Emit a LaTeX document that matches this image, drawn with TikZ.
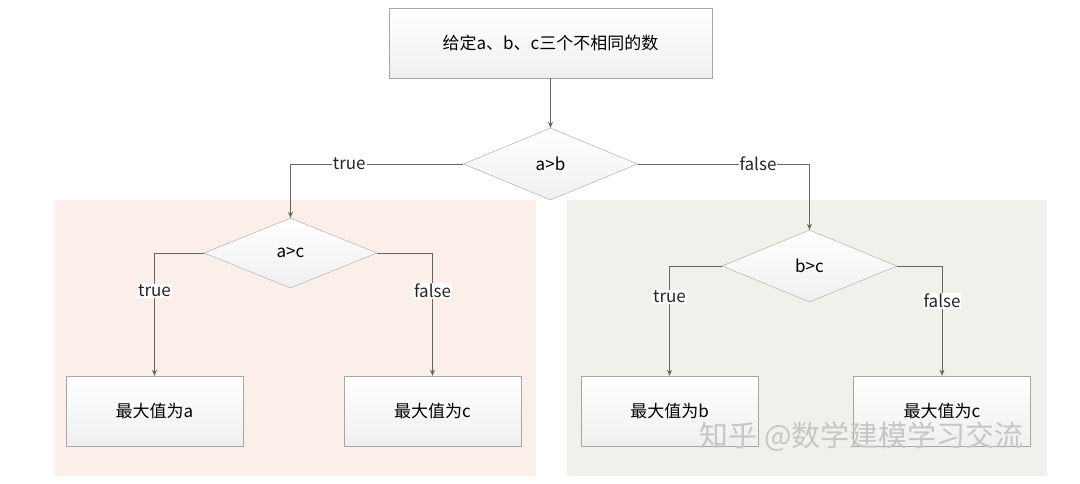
\documentclass[tikz,border=0pt]{standalone}
\usepackage{fontspec}
\setmainfont{Noto Sans CJK SC}
\usetikzlibrary{shapes.geometric,arrows.meta}
\begin{document}
\begin{tikzpicture}[x=1pt,y=-1pt,
  box/.style={draw=gray!70,top color=white,bottom color=gray!12,minimum width=177pt,minimum height=70pt,font=\fontsize{17}{20}\selectfont,inner sep=0},
  dia/.style={diamond,aspect=2.4,draw=gray!70,top color=white,bottom color=gray!12,minimum width=174pt,minimum height=72pt,inner sep=0,font=\fontsize{17}{20}\selectfont},
  conn/.style={draw=gray!80!black,line width=0.6pt,-{Stealth[length=6pt,width=5pt]}},
  lab/.style={fill=white,inner sep=1pt,font=\fontsize{17}{20}\selectfont,text=black!85}]
\useasboundingbox (0,0) rectangle (1080,483);
\fill[white] (0,0) rectangle (1080,483);
\fill[fill={rgb,255:red,252;green,238;blue,232}] (55,200) rectangle (536,476);
\fill[fill={rgb,255:red,239;green,242;blue,234}] (567,200) rectangle (1047,476);
\node[box,minimum width=323pt] (start) at (550.5,43) {给定a、b、c三个不相同的数};
\node[dia] (d1) at (550.5,164) {a>b};
\node[dia,minimum width=173pt,minimum height=70pt] (d2) at (290.5,253) {a>c};
\node[dia,minimum width=175pt] (d3) at (809.5,266) {b>c};
\node[box] (ra) at (154.5,411) {最大值为a};
\node[box] (rc1) at (432.5,411) {最大值为c};
\node[box] (rb) at (669.5,411) {最大值为b};
\node[box] (rc2) at (942,411) {最大值为c};
\draw[conn] (start.south) -- (d1.north);
\draw[conn] (d1.west) -| node[lab,pos=0.33]{true} (d2.north);
\draw[conn] (d1.east) -| node[lab,pos=0.35]{false} (d3.north);
\draw[conn] (d2.west) -| node[lab,pos=0.655]{true} (ra.north);
\draw[conn] (d2.east) -| node[lab,pos=0.655]{false} (rc1.north);
\draw[conn] (d3.west) -| node[lab,pos=0.64]{true} (rb.north);
\draw[conn] (d3.east) -| node[lab,pos=0.66]{false} (rc2.north);
\node[text=gray!45,font=\fontsize{29}{32}\selectfont,anchor=west] (wm) at (696,437) {知乎 @数学建模学习交流};
\end{tikzpicture}
\end{document}
